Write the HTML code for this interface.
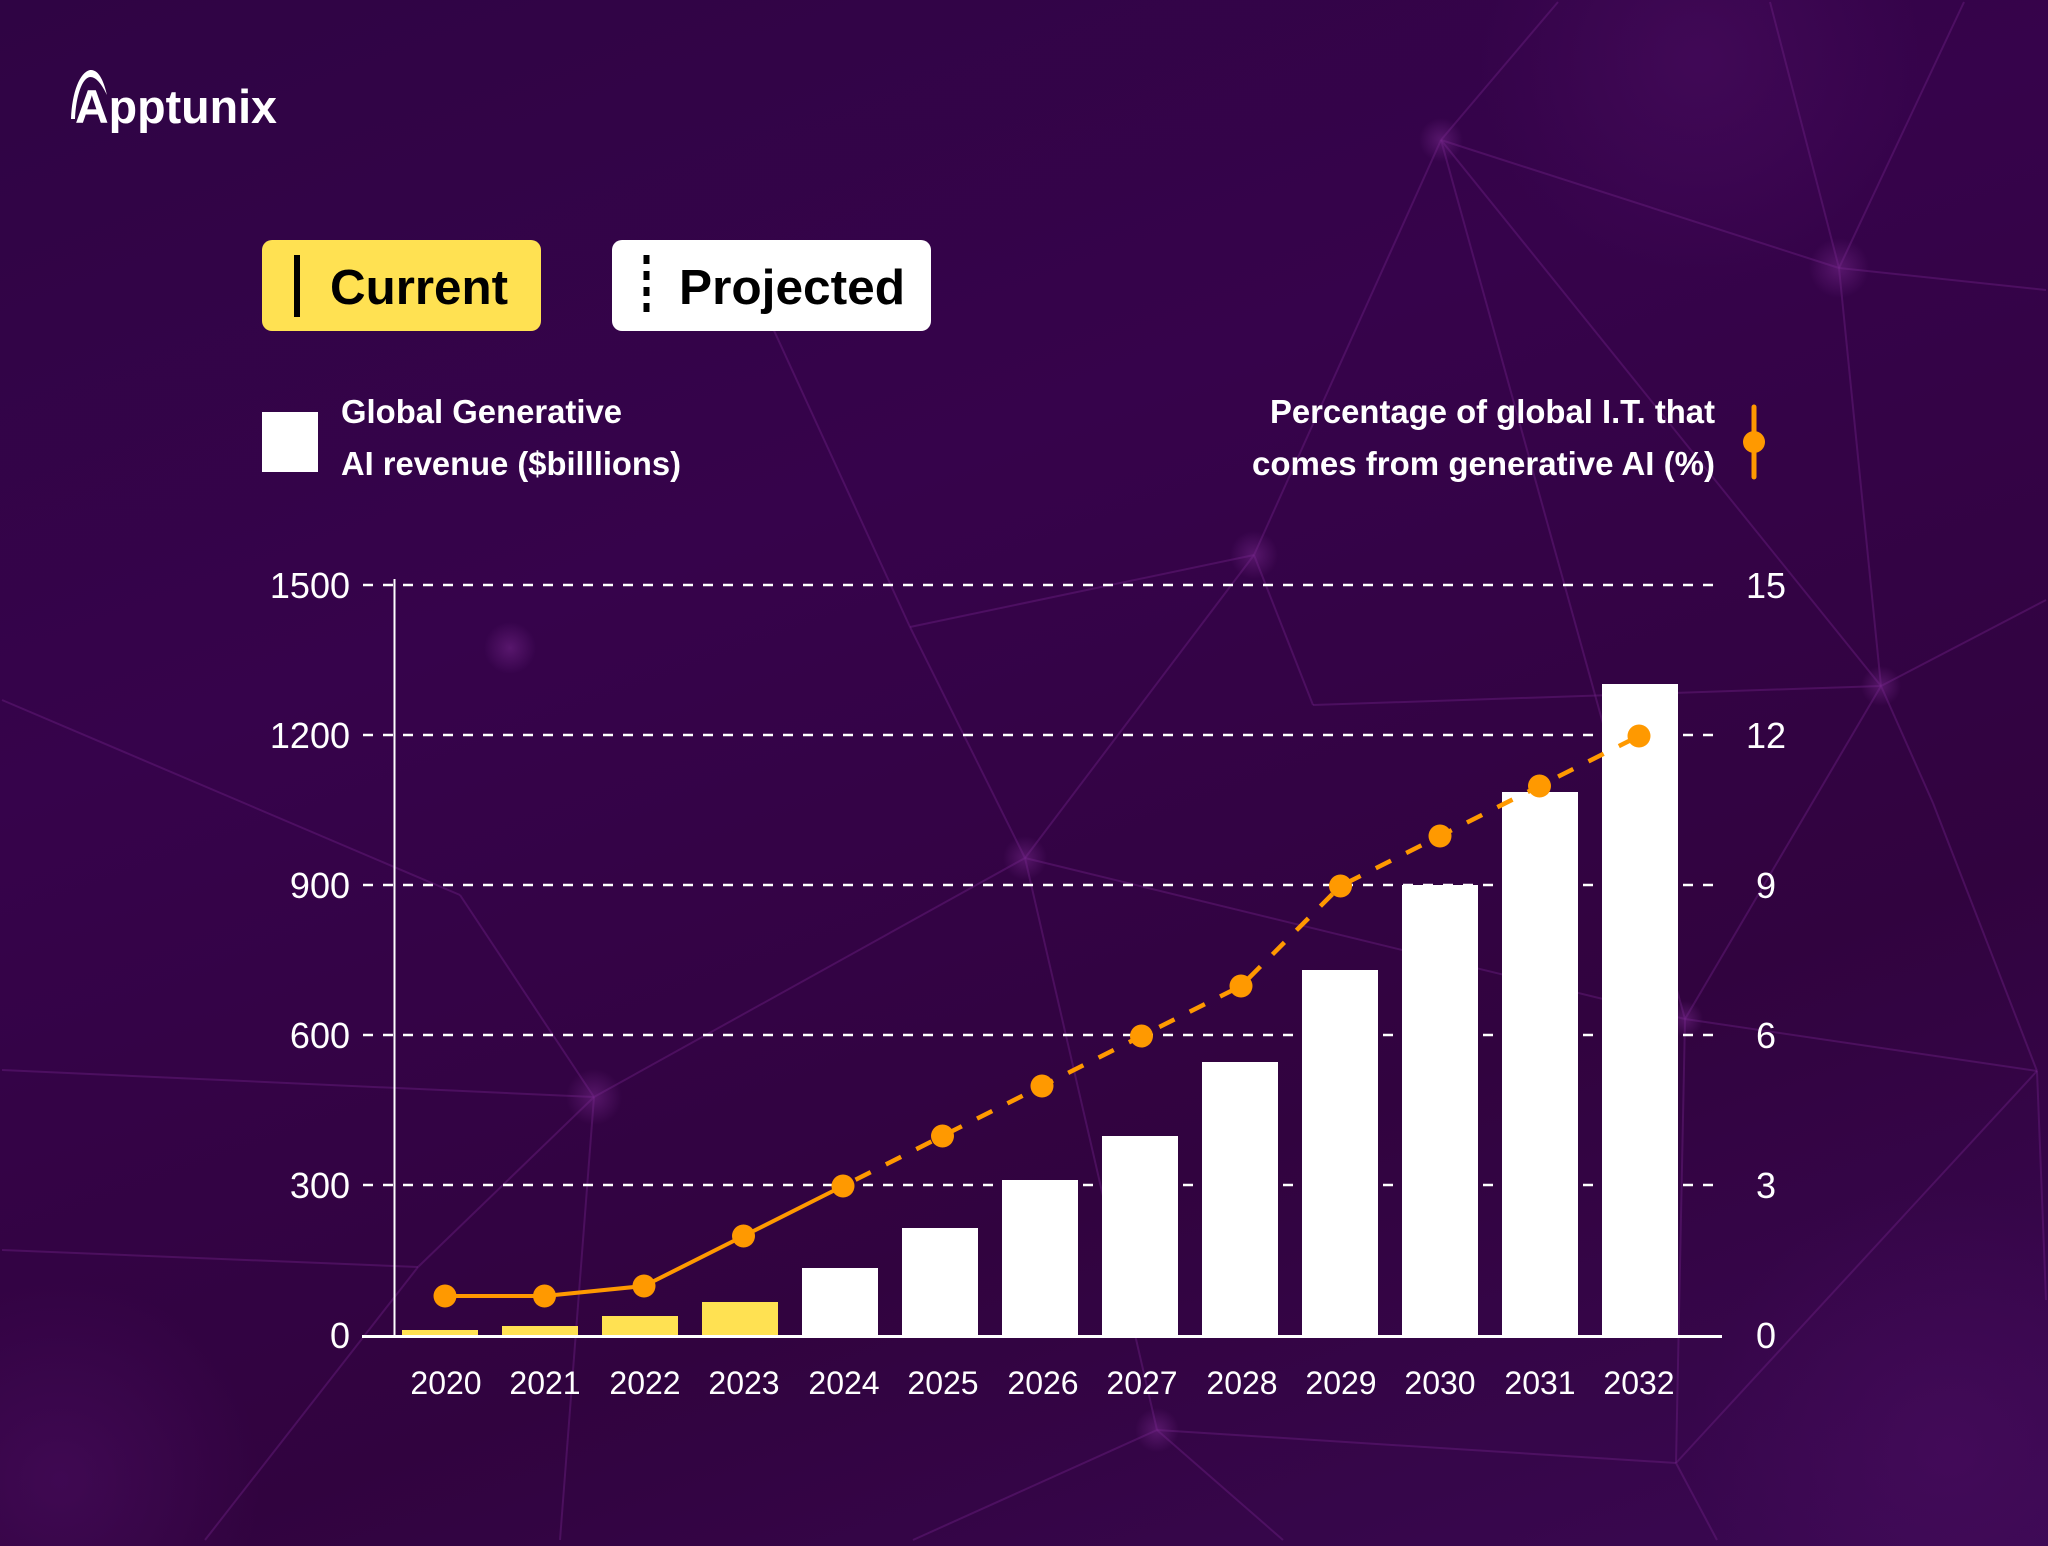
<!DOCTYPE html>
<html>
<head>
<meta charset="utf-8">
<style>
  html{margin:0;padding:0;width:2048px;height:1546px;overflow:hidden;}
  body{margin:0;padding:0;width:2048px;height:1546px;overflow:hidden;position:relative;
    background:
      radial-gradient(circle at 1950px 1450px, rgba(74,13,96,0.55) 0px, rgba(74,13,96,0) 260px),
      radial-gradient(circle at 60px 1480px, rgba(74,13,96,0.55) 0px, rgba(74,13,96,0) 200px),
      radial-gradient(circle at 1700px 60px, rgba(74,13,96,0.55) 0px, rgba(74,13,96,0) 220px),
      linear-gradient(160deg,#2f0444 0%,#36034b 35%,#31033f 70%,#3a0852 100%);
    font-family:"Liberation Sans",sans-serif;}
  svg{display:block;position:absolute;left:0;top:0;}
</style>
</head>
<body>
<svg width="2048" height="1546" viewBox="0 0 2048 1546" xmlns="http://www.w3.org/2000/svg" overflow="hidden">
  <defs>
    <radialGradient id="glow" cx="50%" cy="50%" r="50%">
      <stop offset="0%" stop-color="#7a2a8f" stop-opacity="0.5"/>
      <stop offset="100%" stop-color="#7a2a8f" stop-opacity="0"/>
    </radialGradient>
  </defs>

  <!-- network lines -->
  <g stroke="#6a1f80" stroke-opacity="0.45" stroke-width="2" fill="none">
    <line x1="1441" y1="140" x2="1839" y2="268"/>
    <line x1="1441" y1="140" x2="1558" y2="2"/>
    <line x1="1839" y1="268" x2="1770" y2="2"/>
    <line x1="1839" y1="268" x2="1964" y2="2"/>
    <line x1="1839" y1="268" x2="2046" y2="290"/>
    <line x1="1441" y1="140" x2="1254" y2="555"/>
    <line x1="1441" y1="140" x2="1685" y2="1019"/>
    <line x1="1441" y1="140" x2="1881" y2="686"/>
    <line x1="1839" y1="268" x2="1881" y2="686"/>
    <line x1="1881" y1="686" x2="1933" y2="803"/>
    <line x1="1881" y1="686" x2="2046" y2="600"/>
    <line x1="1881" y1="686" x2="1685" y2="1019"/>
    <line x1="1933" y1="803" x2="2037" y2="1071"/>
    <line x1="1685" y1="1019" x2="2037" y2="1071"/>
    <line x1="1685" y1="1019" x2="1676" y2="1463"/>
    <line x1="2037" y1="1071" x2="1676" y2="1463"/>
    <line x1="1676" y1="1463" x2="1157" y2="1430"/>
    <line x1="1676" y1="1463" x2="1717" y2="1540"/>
    <line x1="2037" y1="1071" x2="2046" y2="1300"/>
    <line x1="1157" y1="1430" x2="1025" y2="858"/>
    <line x1="1157" y1="1430" x2="913" y2="1540"/>
    <line x1="1025" y1="858" x2="910" y2="627"/>
    <line x1="1025" y1="858" x2="1254" y2="555"/>
    <line x1="1025" y1="858" x2="594" y2="1097"/>
    <line x1="1025" y1="858" x2="1685" y2="1019"/>
    <line x1="910" y1="627" x2="1254" y2="555"/>
    <line x1="910" y1="627" x2="760" y2="300"/>
    <line x1="1313" y1="705" x2="1881" y2="686"/>
    <line x1="1313" y1="705" x2="1254" y2="555"/>
    <line x1="594" y1="1097" x2="460" y2="895"/>
    <line x1="594" y1="1097" x2="418" y2="1267"/>
    <line x1="594" y1="1097" x2="2" y2="1070"/>
    <line x1="460" y1="895" x2="2" y2="700"/>
    <line x1="418" y1="1267" x2="2" y2="1250"/>
    <line x1="418" y1="1267" x2="205" y2="1540"/>
    <line x1="594" y1="1097" x2="560" y2="1540"/>
    <line x1="1157" y1="1430" x2="1283" y2="1540"/>
  </g>
  <g>
    <circle cx="1441" cy="140" r="22" fill="url(#glow)"/>
    <circle cx="1839" cy="268" r="30" fill="url(#glow)"/>
    <circle cx="1881" cy="686" r="20" fill="url(#glow)"/>
    <circle cx="1025" cy="858" r="22" fill="url(#glow)"/>
    <circle cx="594" cy="1097" r="28" fill="url(#glow)"/>
    <circle cx="1157" cy="1430" r="22" fill="url(#glow)"/>
    <circle cx="1254" cy="555" r="24" fill="url(#glow)"/>
    <circle cx="1685" cy="1019" r="18" fill="url(#glow)"/>
    <circle cx="510" cy="648" r="26" fill="url(#glow)"/>
  </g>

  <!-- Logo -->
  <path d="M71,119 C72,92 80,72 90,70 C99,69 104,82 107,95 C101,83 96,77 90,77 C82,78 76,96 75,119 Z" fill="#ffffff"/>
  <text x="75" y="123" font-family="Liberation Sans, sans-serif" font-weight="bold" font-size="47" fill="#ffffff" textLength="202" lengthAdjust="spacingAndGlyphs">Apptunix</text>

  <!-- Current / Projected legend -->
  <rect x="262" y="240" width="279" height="91" rx="10" fill="#FFE152"/>
  <rect x="294" y="255" width="6" height="62" fill="#000000"/>
  <text x="330" y="304" font-family="Liberation Sans, sans-serif" font-weight="bold" font-size="49" fill="#000000" textLength="178" lengthAdjust="spacingAndGlyphs">Current</text>

  <rect x="612" y="240" width="319" height="91" rx="10" fill="#ffffff"/>
  <line x1="646.5" y1="255" x2="646.5" y2="312" stroke="#000000" stroke-width="6" stroke-dasharray="9 7"/>
  <text x="679" y="304" font-family="Liberation Sans, sans-serif" font-weight="bold" font-size="49" fill="#000000" textLength="226" lengthAdjust="spacingAndGlyphs">Projected</text>

  <!-- series legend -->
  <rect x="262" y="412" width="56" height="60" fill="#ffffff"/>
  <text x="341" y="423" font-family="Liberation Sans, sans-serif" font-weight="bold" font-size="33" fill="#ffffff" textLength="281" lengthAdjust="spacingAndGlyphs">Global Generative</text>
  <text x="341" y="475" font-family="Liberation Sans, sans-serif" font-weight="bold" font-size="33" fill="#ffffff" textLength="340" lengthAdjust="spacingAndGlyphs">AI revenue ($billlions)</text>

  <text x="1270" y="423" font-family="Liberation Sans, sans-serif" font-weight="bold" font-size="33" fill="#ffffff" textLength="445" lengthAdjust="spacingAndGlyphs">Percentage of global I.T. that</text>
  <text x="1252" y="475" font-family="Liberation Sans, sans-serif" font-weight="bold" font-size="33" fill="#ffffff" textLength="463" lengthAdjust="spacingAndGlyphs">comes from generative AI (%)</text>
  <line x1="1754" y1="407" x2="1754" y2="477" stroke="#FF9900" stroke-width="5" stroke-linecap="round"/>
  <circle cx="1754" cy="442" r="11" fill="#FF9900"/>

  <!-- grid lines -->
  <g stroke="#ffffff" stroke-width="2.5" stroke-dasharray="10 10">
    <line x1="363" y1="585" x2="1716" y2="585"/>
    <line x1="363" y1="735" x2="1716" y2="735"/>
    <line x1="363" y1="885" x2="1716" y2="885"/>
    <line x1="363" y1="1035" x2="1716" y2="1035"/>
    <line x1="363" y1="1185" x2="1716" y2="1185"/>
  </g>

  <!-- axes -->
  <line x1="394.5" y1="579" x2="394.5" y2="1336" stroke="#ffffff" stroke-width="2"/>

  <!-- bars -->
  <g>
    <rect x="402" y="1330" width="76" height="6" fill="#FFE152"/>
    <rect x="502" y="1326" width="76" height="10" fill="#FFE152"/>
    <rect x="602" y="1316" width="76" height="20" fill="#FFE152"/>
    <rect x="702" y="1302" width="76" height="34" fill="#FFE152"/>
    <rect x="802" y="1268" width="76" height="68" fill="#ffffff"/>
    <rect x="902" y="1228" width="76" height="108" fill="#ffffff"/>
    <rect x="1002" y="1180" width="76" height="156" fill="#ffffff"/>
    <rect x="1102" y="1136" width="76" height="200" fill="#ffffff"/>
    <rect x="1202" y="1062" width="76" height="274" fill="#ffffff"/>
    <rect x="1302" y="970" width="76" height="366" fill="#ffffff"/>
    <rect x="1402" y="885" width="76" height="451" fill="#ffffff"/>
    <rect x="1502" y="792" width="76" height="544" fill="#ffffff"/>
    <rect x="1602" y="684" width="76" height="652" fill="#ffffff"/>
  </g>

  <line x1="362" y1="1336.5" x2="1722" y2="1336.5" stroke="#ffffff" stroke-width="3"/>

  <!-- line series -->
  <polyline points="445,1296 544.5,1296 644,1286 743.5,1236 843,1186" fill="none" stroke="#FF9900" stroke-width="4" stroke-linejoin="round"/>
  <polyline points="843,1186 942.5,1136 1042,1086 1141.5,1036 1241,986 1340.5,886 1440,836 1539.5,786 1639,736" fill="none" stroke="#FF9900" stroke-width="4.5" stroke-dasharray="17 17" stroke-dashoffset="-14"/>
  <g fill="#FF9900">
    <circle cx="445" cy="1296" r="11.5"/>
    <circle cx="544.5" cy="1296" r="11.5"/>
    <circle cx="644" cy="1286" r="11.5"/>
    <circle cx="743.5" cy="1236" r="11.5"/>
    <circle cx="843" cy="1186" r="11.5"/>
    <circle cx="942.5" cy="1136" r="11.5"/>
    <circle cx="1042" cy="1086" r="11.5"/>
    <circle cx="1141.5" cy="1036" r="11.5"/>
    <circle cx="1241" cy="986" r="11.5"/>
    <circle cx="1340.5" cy="886" r="11.5"/>
    <circle cx="1440" cy="836" r="11.5"/>
    <circle cx="1539.5" cy="786" r="11.5"/>
    <circle cx="1639" cy="736" r="11.5"/>
  </g>

  <!-- left axis labels -->
  <g font-family="Liberation Sans, sans-serif" font-size="36" fill="#ffffff" text-anchor="end">
    <text x="350" y="598">1500</text>
    <text x="350" y="748">1200</text>
    <text x="350" y="898">900</text>
    <text x="350" y="1048">600</text>
    <text x="350" y="1198">300</text>
    <text x="350" y="1348">0</text>
  </g>
  <!-- right axis labels -->
  <g font-family="Liberation Sans, sans-serif" font-size="36" fill="#ffffff" text-anchor="middle">
    <text x="1766" y="598">15</text>
    <text x="1766" y="748">12</text>
    <text x="1766" y="898">9</text>
    <text x="1766" y="1048">6</text>
    <text x="1766" y="1198">3</text>
    <text x="1766" y="1348">0</text>
  </g>
  <!-- x labels -->
  <g font-family="Liberation Sans, sans-serif" font-size="32" fill="#ffffff" text-anchor="middle">
    <text x="446" y="1394">2020</text>
    <text x="545" y="1394">2021</text>
    <text x="645" y="1394">2022</text>
    <text x="744" y="1394">2023</text>
    <text x="844" y="1394">2024</text>
    <text x="943" y="1394">2025</text>
    <text x="1043" y="1394">2026</text>
    <text x="1142" y="1394">2027</text>
    <text x="1242" y="1394">2028</text>
    <text x="1341" y="1394">2029</text>
    <text x="1440" y="1394">2030</text>
    <text x="1540" y="1394">2031</text>
    <text x="1639" y="1394">2032</text>
  </g>
</svg>
</body>
</html>
